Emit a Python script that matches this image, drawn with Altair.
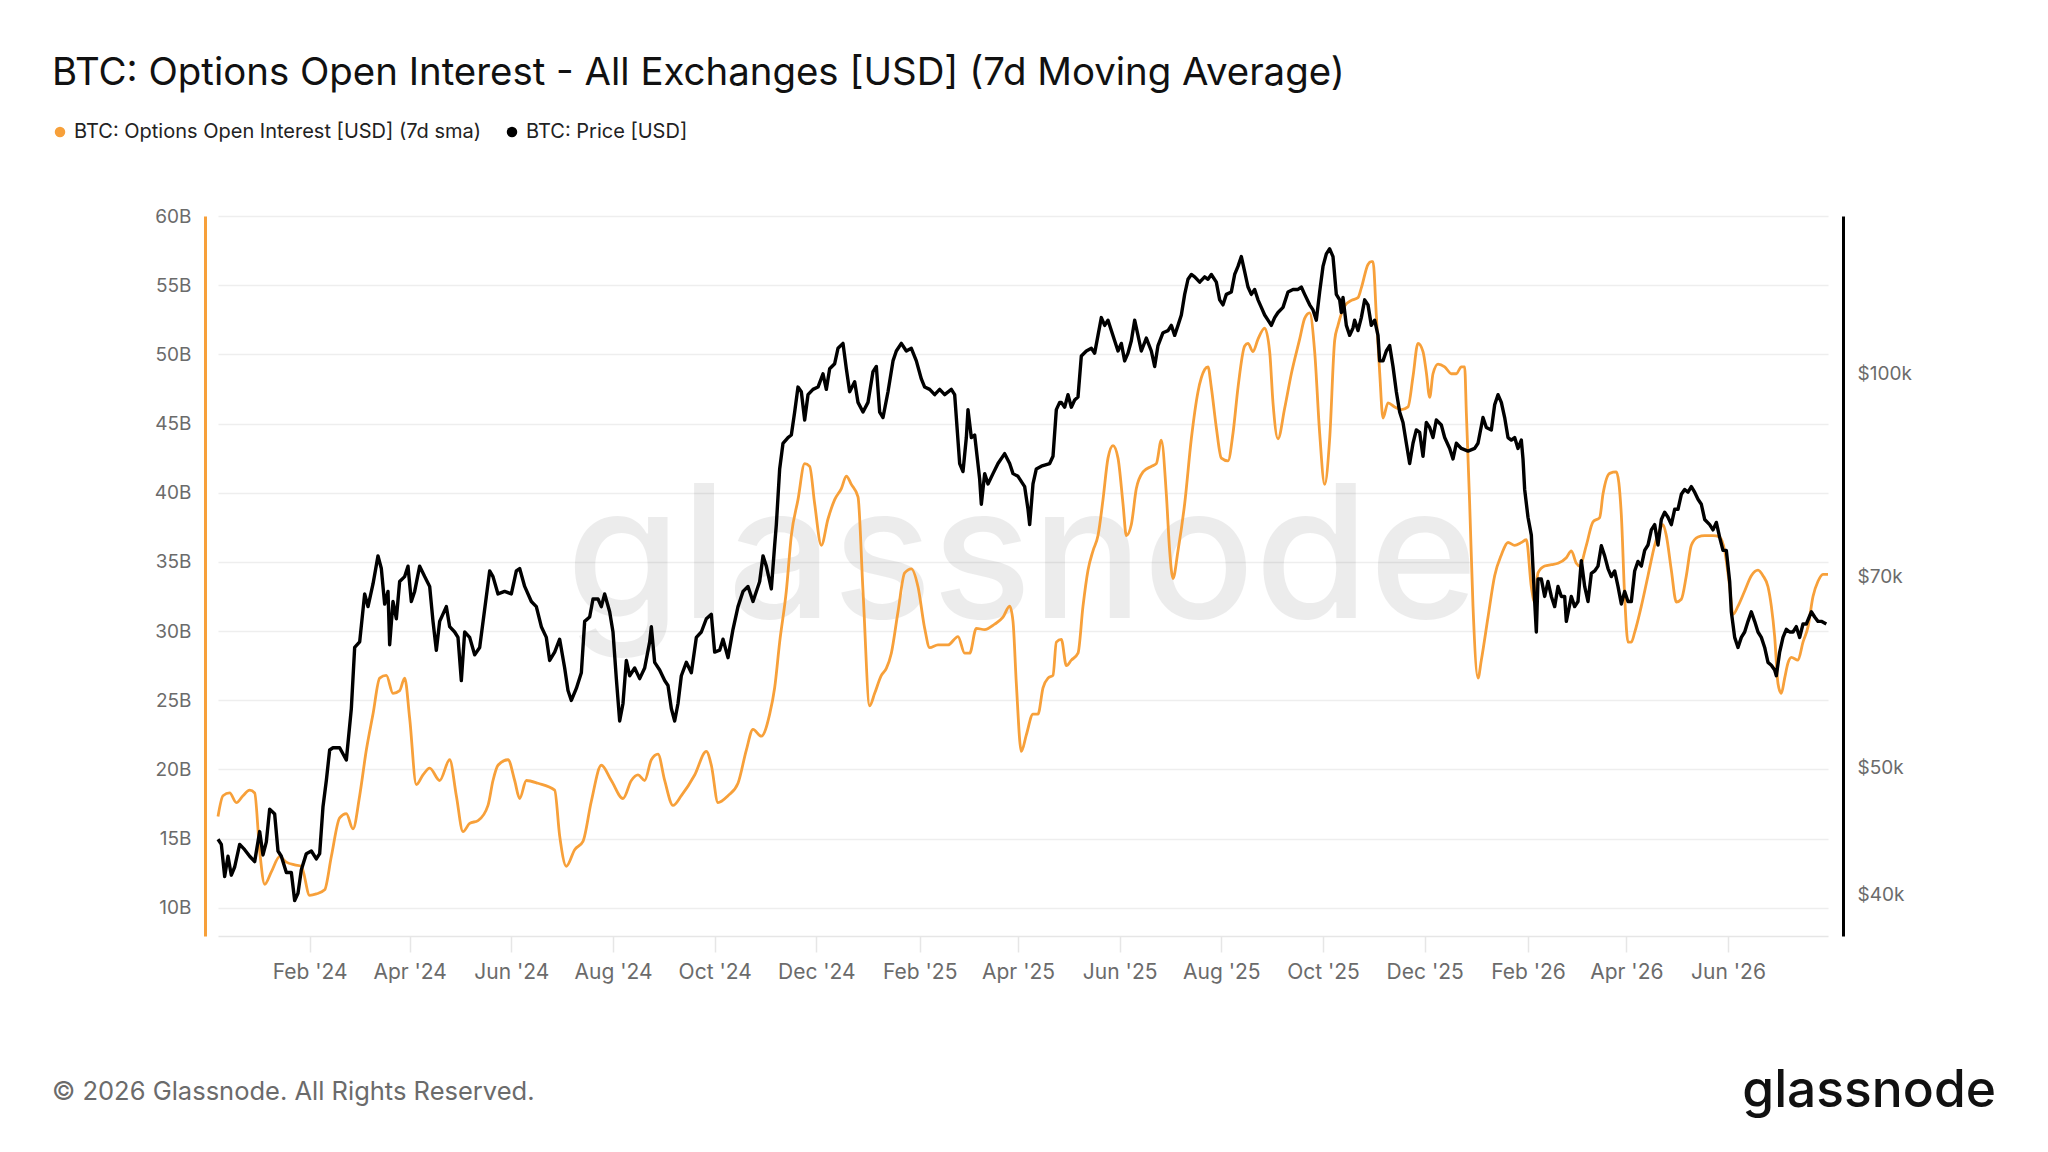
import pandas as pd
import altair as alt

TITLE = "BTC: Options Open Interest - All Exchanges [USD] (7d Moving Average)"
SERIES = ["BTC: Options Open Interest [USD] (7d sma)", "BTC: Price [USD]"]
FOOTER = "© 2026 Glassnode. All Rights Reserved."
BRAND = "glassnode"

ORANGE = "#f7a03a"
FONT = "Inter"
BASE_DAY = "2024-02-01"   # day 0 of the day offsets below

# Options open interest, 7d sma, in billions of USD (day offset from BASE_DAY)
OI_DAY = [
    -55, -52, -48, -44, -40, -36, -33, -30, -27, -23, -18, -14, -9, -5, 0, 4, 9, 13, 18, 22,
    26, 30, 34, 38, 42, 46, 50, 54, 57, 60, 64, 68, 72, 78, 84, 88, 92, 96,
    101, 107, 110, 113, 119, 123, 126, 130, 137, 147, 150, 154, 159, 164, 169, 175, 181, 188,
    193, 197, 201, 205, 209, 213, 218, 223, 231, 238, 241, 245, 251, 257, 262, 266, 271,
    276, 279, 282, 286, 289, 293, 297, 300, 303, 307, 311, 315, 319, 322, 325, 329, 332, 336,
    339, 343, 346, 349, 353, 357, 361, 365, 369, 372, 377, 383, 389, 393, 396, 400, 405, 411,
    416, 420, 422, 424, 427, 430, 434,
    437, 440, 443, 446, 448, 451, 454, 457, 461, 464, 467, 470, 473, 476, 479, 482, 485, 488,
    490, 493, 496, 500, 505, 508, 511, 514, 516, 518, 521, 525, 529, 533, 537, 539, 541, 544,
    547, 551, 554, 557, 561, 563, 566, 569, 573, 576, 578, 581, 585, 589, 594, 597, 600, 603,
    606, 609, 612, 615,
    617, 621, 625, 629, 631, 635, 637, 638, 640, 642, 644, 647, 651, 655, 659, 662, 665, 668,
    670, 672, 674, 677, 681, 685, 688, 691, 693, 694, 696, 698, 701, 703, 707, 711, 715, 719,
    723, 727, 730, 733, 735, 737, 741, 745, 749, 754, 757, 760, 762, 766, 770, 774, 776, 780, 784,
    787, 789, 791, 793, 795, 799, 803, 807, 810, 812, 814, 817, 820, 823, 826, 829, 833, 837,
    842, 846, 849, 852, 854, 857, 861, 865, 869, 872, 875, 877, 879, 881, 883, 885, 887, 889,
    893, 896, 899, 902, 905, 908, 911,
]
OI_BN = [
    16.6, 18.1, 18.3, 17.6, 18.1, 18.5, 18.3, 14.1, 11.7, 12.6, 13.7, 13.3, 13.1, 13.0, 10.9, 11.0, 11.3, 13.7, 16.5, 16.8,
    15.7, 18.1, 21.4, 24.0, 26.6, 26.8, 25.5, 25.7, 26.6, 23.7, 18.9, 19.6, 20.1, 19.2, 20.7, 18.1, 15.5, 16.1,
    16.3, 17.4, 19.2, 20.3, 20.7, 19.2, 17.9, 19.2, 19.0, 18.5, 15.2, 13.0, 14.2, 14.8, 17.7, 20.3, 19.2, 17.9,
    19.2, 19.6, 19.2, 20.7, 21.1, 19.2, 17.4, 18.1, 19.6, 21.3, 20.3, 17.6, 18.1, 19.0, 21.4, 22.9, 22.4,
    24.0, 25.9, 29.2, 32.9, 36.9, 39.5, 42.1, 41.9, 39.2, 36.2, 38.1, 39.5, 40.3, 41.2, 40.6, 39.7, 32.9, 24.6,
    25.5, 26.8, 27.3, 28.4, 31.4, 34.2, 34.5, 33.2, 30.2, 28.8, 29.0, 29.0, 29.6, 28.4, 28.4, 30.2, 30.1, 30.5,
    31.0, 31.8, 30.7, 26.2, 21.3, 22.5, 24.0,
    24.0, 25.9, 26.6, 26.8, 29.2, 29.4, 27.5, 27.9, 28.4, 31.8, 34.4, 35.8, 36.9, 39.5, 42.5, 43.4, 42.5, 39.2,
    36.9, 37.7, 40.3, 41.5, 41.9, 42.1, 43.8, 39.9, 35.8, 33.8, 35.8, 39.2, 43.9, 47.3, 48.9, 49.1, 47.6, 44.7,
    42.5, 42.3, 44.3, 47.6, 50.6, 50.8, 50.2, 51.1, 51.9, 50.2, 46.5, 43.9, 46.1, 48.6, 51.1, 52.6, 53.0, 50.2,
    44.3, 40.6, 43.9, 51.0,
    52.1, 53.5, 53.9, 54.1, 54.8, 56.5, 56.7, 56.7, 52.8, 48.7, 45.4, 46.5, 46.2, 46.0, 46.2, 48.4, 50.8, 50.2,
    48.7, 46.9, 48.6, 49.3, 49.1, 48.6, 48.6, 49.1, 49.1, 45.8, 39.2, 31.8, 26.6, 27.9, 31.0, 34.0, 35.5, 36.4,
    36.2, 36.4, 36.6, 33.2, 32.1, 34.2, 34.7, 34.8, 34.9, 35.3, 35.8, 34.9, 34.7, 36.2, 37.9, 38.2, 39.9, 41.4, 41.5,
    38.4, 32.5, 29.2, 29.2, 29.9, 31.8, 34.0, 36.2, 37.3, 37.7, 36.9, 34.4, 32.1, 32.3, 34.0, 36.2, 36.8, 36.9,
    36.9, 36.8, 35.8, 33.2, 31.2, 31.8, 32.9, 34.0, 34.4, 34.0, 33.2, 31.8, 29.6, 26.2, 25.5, 26.6, 27.7, 28.1,
    27.9, 29.2, 30.3, 32.5, 33.6, 34.1, 34.1,
]

# BTC price in thousands of USD
PRICE_DAY = [
    -55, -53, -51, -49, -47, -45, -42, -39, -36, -33, -30, -28, -26, -24, -21, -19, -17, -14, -11, -9,
    -7, -5, -2, 1, 4, 6, 8, 10, 12, 14, 18, 22, 25, 27, 30, 33, 35, 38, 41, 43,
    45, 47, 48, 50, 52, 54, 57, 59, 61, 63, 66, 69, 72, 74, 76, 78, 82, 84, 87, 89,
    91, 93, 96, 99, 102, 105, 108, 110, 113,
    117, 121, 124, 126, 129, 133, 136, 139, 142, 144, 147, 150, 153, 155, 157, 160, 163, 165, 168, 170,
    173, 175, 177, 180, 182, 184, 186, 188, 190, 192, 195, 198, 201, 204, 205, 207, 210, 213, 215, 217,
    219, 221, 223, 226, 229, 232, 235, 238, 241, 243, 246, 248, 251, 254, 257, 260, 263, 266, 268, 270,
    272, 274, 277, 279,
    280, 282, 284, 287, 289, 291, 293, 295, 297, 299, 302, 305, 308, 310, 312, 315, 317, 320, 322, 324,
    327, 329, 332, 335, 338, 340, 342, 344, 347, 350, 352, 355, 358, 361, 364, 367, 369, 372, 375, 378,
    381, 385, 387, 390, 392, 394, 395, 397, 399, 402, 403, 405, 407, 410, 413, 417, 420, 422, 425, 429,
    431, 432, 434, 436, 439, 444, 446, 448, 450,
    451, 453, 455, 457, 459, 461, 463, 466, 469, 471, 473, 475, 477, 479, 481, 483, 485, 487, 489, 491,
    493, 495, 497, 499, 502, 505, 507, 509, 512, 515, 517, 519, 521, 523, 525, 527, 529, 531, 534, 537,
    539, 541, 544, 546, 548, 550, 553, 555, 557, 559, 561, 563, 565, 567, 569, 571, 573, 575, 577, 579,
    581, 584, 587, 590, 593, 595, 597, 600, 602, 604, 606, 608, 610, 612, 614, 616,
    618, 619, 620, 622, 624, 626, 627, 629, 631, 633, 635, 637, 639, 641, 642, 644, 646, 648, 650, 652,
    654, 656, 658, 660, 662, 664, 666, 668, 670, 672, 674, 676, 679, 681, 684, 686, 688, 691, 695, 699,
    701, 704, 706, 709, 711, 713, 715, 717, 719, 721, 723, 725, 727, 728, 729, 731, 733, 735, 736, 737,
    739, 741, 743, 745, 747, 749, 751, 753, 754, 757, 759, 761, 763, 765, 767, 769, 771, 773, 775, 777,
    779, 781, 783, 785,
    787, 789, 791, 793, 795, 797, 799, 801, 803, 805, 807, 809, 811, 813, 815, 817, 819, 821, 823, 825,
    827, 829, 831, 833, 835, 837, 840, 842, 844, 846, 848, 850, 852, 853, 855, 857, 859, 861, 863, 865,
    867, 869, 871, 873, 875, 877, 879, 880, 882, 884, 886, 888, 890, 892, 894, 896, 898, 901, 903, 905,
    907, 910,
]
PRICE_K = [
    44.1, 43.7, 41.3, 42.8, 41.4, 42.0, 43.7, 43.3, 42.8, 42.4, 44.7, 42.9, 43.9, 46.5, 46.1, 43.2, 42.8, 41.6, 41.6, 39.6,
    40.1, 41.8, 43.0, 43.2, 42.6, 43.0, 46.7, 48.9, 51.6, 51.8, 51.8, 50.7, 55.5, 61.8, 62.4, 67.9, 66.4, 69.1, 72.6, 71.0,
    66.7, 68.2, 62.1, 67.0, 65.0, 69.4, 70.0, 71.3, 67.0, 68.2, 71.3, 70.0, 68.8, 64.7, 61.5, 64.7, 66.4, 64.1, 63.5, 62.9,
    58.3, 63.5, 62.9, 61.0, 61.8, 66.1, 70.7, 70.0, 67.9,
    68.2, 67.9, 70.7, 71.0, 68.8, 67.0, 66.4, 64.1, 62.9, 60.4, 61.3, 62.7, 59.6, 57.3, 56.3, 57.5, 59.1, 64.7, 65.2, 67.3,
    67.3, 66.4, 67.9, 65.8, 63.5, 58.5, 54.3, 56.0, 60.4, 58.8, 59.6, 58.5, 59.6, 62.4, 64.1, 60.2, 59.4, 58.3, 57.8, 55.5,
    54.3, 56.0, 58.8, 60.2, 59.1, 62.9, 63.5, 65.0, 65.5, 61.3, 61.5, 62.7, 60.7, 63.8, 66.4, 68.2, 68.8, 67.0, 68.2, 69.4,
    72.6, 71.3, 68.5, 74.0,
    76.7, 84.6, 88.5, 89.4, 89.8, 93.5, 97.7, 96.9, 92.2, 96.4, 97.3, 97.7, 100.0, 97.3, 100.9, 101.8, 104.6, 105.5, 100.9, 96.9,
    98.6, 95.1, 93.5, 95.1, 100.4, 101.3, 93.5, 92.6, 96.9, 102.3, 104.1, 105.5, 104.1, 104.6, 102.3, 99.1, 97.7, 97.3, 96.4, 97.3,
    96.4, 97.3, 96.4, 85.4, 84.2, 89.4, 93.9, 89.4, 89.8, 83.1, 79.5, 83.9, 82.4, 83.9, 85.4, 86.9, 85.4, 83.9, 83.5, 82.0,
    78.8, 76.7, 82.4, 84.6, 85.0, 85.4, 86.5, 93.9, 95.1,
    95.1, 94.3, 96.4, 94.3, 95.5, 96.0, 103.2, 104.1, 104.6, 103.7, 107.0, 110.4, 108.9, 109.9, 107.9, 106.0, 104.1, 105.5, 102.3, 103.7,
    106.0, 109.9, 107.0, 104.1, 106.5, 104.1, 101.3, 105.1, 107.5, 107.9, 108.9, 107.0, 108.9, 110.9, 115.0, 118.1, 119.1, 118.6, 117.5, 118.6,
    118.1, 119.1, 117.5, 113.9, 112.9, 115.0, 115.5, 119.1, 120.8, 122.9, 119.7, 116.5, 115.0, 116.0, 113.9, 112.4, 110.9, 109.9, 108.9, 110.4,
    111.4, 112.4, 115.5, 116.0, 116.0, 116.5, 115.0, 112.9, 111.9, 109.9, 115.5, 120.8, 123.5, 124.6, 122.9, 115.0,
    113.9, 111.4, 114.4, 108.9, 107.0, 108.4, 109.9, 107.9, 110.4, 113.9, 112.9, 108.9, 109.9, 107.0, 102.3, 102.3, 104.1, 105.1, 101.3, 96.9,
    93.5, 91.8, 88.5, 85.4, 88.5, 90.6, 90.2, 86.5, 91.8, 91.0, 89.4, 92.2, 91.4, 89.4, 87.7, 86.1, 88.5, 87.7, 87.3, 87.7,
    88.5, 92.6, 91.0, 90.6, 94.7, 96.4, 95.1, 92.6, 89.4, 89.0, 89.4, 87.7, 89.0, 86.1, 81.6, 77.7, 75.3, 67.0, 63.5, 69.7,
    69.7, 67.6, 69.4, 67.6, 66.4, 68.8, 67.6, 67.6, 64.7, 67.6, 66.4, 67.0, 72.0, 68.8, 67.0, 70.4, 70.7, 71.3, 73.9, 72.6,
    71.0, 70.0, 70.7, 68.8,
    66.7, 68.2, 67.0, 67.0, 70.7, 71.9, 71.3, 73.3, 74.0, 76.0, 76.7, 74.0, 77.4, 78.4, 77.7, 76.7, 78.8, 78.8, 80.9, 81.6,
    81.2, 82.0, 81.2, 80.2, 79.5, 77.4, 76.7, 76.0, 77.0, 75.0, 73.3, 73.3, 69.4, 65.8, 62.9, 61.8, 62.9, 63.5, 64.7, 65.8,
    64.7, 63.5, 62.9, 61.8, 60.2, 59.9, 59.4, 58.8, 61.3, 62.9, 63.8, 63.5, 63.5, 64.1, 62.9, 64.4, 64.4, 65.8, 65.2, 64.7,
    64.7, 64.4,
]

OI_TICKS = [10, 15, 20, 25, 30, 35, 40, 45, 50, 55, 60]
PRICE_TICKS = [40, 50, 70, 100]
MONTH_TICKS = [(2024, 2), (2024, 4), (2024, 6), (2024, 8), (2024, 10), (2024, 12),
               (2025, 2), (2025, 4), (2025, 6), (2025, 8), (2025, 10), (2025, 12),
               (2026, 2), (2026, 4), (2026, 6)]


def to_dates(days):
    base = pd.Timestamp(BASE_DAY)
    return [(base + pd.Timedelta(days=d)).strftime("%Y-%m-%d") for d in days]


def utc_day(y, m, d=1):
    return alt.DateTime(year=y, month=m, date=d, utc=True)


oi_df = pd.DataFrame({"date": to_dates(OI_DAY), "oi": OI_BN})
price_df = pd.DataFrame({"date": to_dates(PRICE_DAY), "price": PRICE_K})

x_enc = alt.X(
    "date:T",
    scale=alt.Scale(type="utc", domain=[utc_day(2023, 12, 8), utc_day(2026, 7, 31)], nice=False),
    axis=alt.Axis(
        values=[utc_day(y, m) for y, m in MONTH_TICKS], format="%b '%y", title=None,
        grid=False, domainColor="#e6e6e6", domainWidth=1.5, tickColor="#e6e6e6",
        tickSize=16, tickWidth=1.5, labelPadding=9, labelColor="#6b6b6b",
        labelFontSize=21, labelFont=FONT,
    ),
)

oi_line = alt.Chart(oi_df).mark_line(
    color=ORANGE, strokeWidth=2.8, interpolate="monotone", strokeJoin="round"
).encode(
    x=x_enc,
    y=alt.Y(
        "oi:Q",
        scale=alt.Scale(domain=[7.96, 60], nice=False, zero=False),
        axis=alt.Axis(
            orient="left", values=OI_TICKS, labelExpr="datum.value + 'B'", title=None,
            domainColor=ORANGE, domainWidth=3, ticks=False, offset=13, labelPadding=14,
            grid=True, gridColor="#eeeeee", gridWidth=1.5,
            labelColor="#6b6b6b", labelFontSize=19, labelFont=FONT,
        ),
    ),
)

price_line = alt.Chart(price_df).mark_line(
    color="#000000", strokeWidth=3.4, strokeJoin="round"
).encode(
    x=x_enc,
    y=alt.Y(
        "price:Q",
        scale=alt.Scale(type="log", domain=[37.2, 132.0], nice=False),
        axis=alt.Axis(
            orient="right", values=PRICE_TICKS, labelExpr="'$' + datum.value + 'k'", title=None,
            domainColor="#000000", domainWidth=3, ticks=False, offset=15, labelPadding=14,
            grid=False, labelColor="#6b6b6b", labelFontSize=19, labelFont=FONT,
        ),
    ),
)


def text_at(text, x, y, size, color, align="left", weight=400, opacity=1.0):
    return alt.Chart(alt.Data(values=[{}])).mark_text(
        text=text, font=FONT, fontSize=size, color=color, align=align,
        baseline="middle", fontWeight=weight, opacity=opacity,
    ).encode(x=alt.value(x), y=alt.value(y))


def dot_at(x, y, color):
    return alt.Chart(alt.Data(values=[{}])).mark_circle(
        size=110, color=color, opacity=1
    ).encode(x=alt.value(x), y=alt.value(y))


watermark = text_at(BRAND, 804, 346, 185, "#000000", align="center", weight=500, opacity=0.07)

chart = alt.layer(
    watermark,
    oi_line,
    price_line,
    text_at(TITLE, -166, -143, 38.4, "#111111"),
    dot_at(-158, -84, ORANGE),
    text_at(SERIES[0], -144, -84, 20, "#222222"),
    dot_at(294, -84, "#000000"),
    text_at(SERIES[1], 308, -84, 20, "#222222"),
    text_at(FOOTER, -166, 876, 25.5, "#6b6b6b"),
    text_at(BRAND, 1778, 876, 51.5, "#111111", align="right", weight=500),
).resolve_scale(
    y="independent"
).properties(
    width=1610,
    height=720,
    autosize=alt.AutoSizeParams(type="none"),
    padding={"left": 210, "top": 208, "right": 212, "bottom": 208},
    background="white",
).configure_view(
    strokeWidth=0
)

chart.save("out.html", embed_options={"renderer": "svg", "actions": False})
